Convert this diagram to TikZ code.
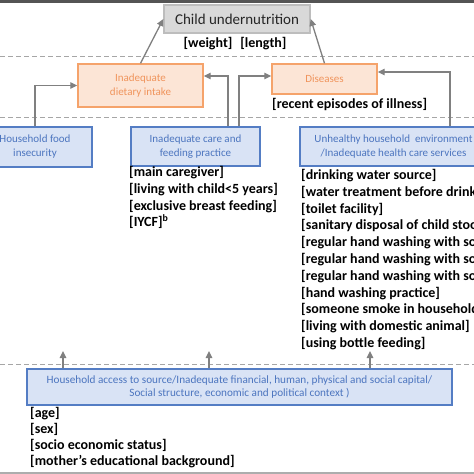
\documentclass[tikz,border=0pt]{standalone}
\usepackage{fontspec}
\setmainfont{Carlito}
\usetikzlibrary{arrows.meta}
\newlength{\du}
\setlength{\du}{1pt}

\definecolor{bandgray}{rgb}{0.33,0.33,0.33}
\definecolor{footgray}{rgb}{0.68,0.68,0.68}
\definecolor{framegray}{rgb}{0.74,0.74,0.74}
\definecolor{fillgray}{rgb}{0.85,0.85,0.85}
\definecolor{dashgray}{rgb}{0.65,0.65,0.65}
\definecolor{arrowgray}{rgb}{0.50,0.50,0.50}
\definecolor{frameorange}{rgb}{0.96,0.64,0.42}
\definecolor{fillorange}{rgb}{0.99,0.90,0.84}
\definecolor{textorange}{rgb}{0.94,0.58,0.36}
\definecolor{frameblue}{rgb}{0.33,0.49,0.77}
\definecolor{fillblue}{rgb}{0.85,0.89,0.96}
\definecolor{textblue}{rgb}{0.30,0.46,0.75}

\begin{document}
\begin{tikzpicture}[
  graybox/.style={draw=framegray, fill=fillgray, line width=1.4\du, inner sep=0pt,
    font=\fontsize{15}{17}\selectfont, text=black!85},
  orangebox/.style={draw=frameorange, fill=fillorange, line width=1.4\du, inner sep=0pt,
    align=center, text=textorange, font=\fontsize{11}{14}\selectfont},
  bluebox/.style={draw=frameblue, fill=fillblue, line width=1.2\du, inner sep=0pt,
    align=center, text=textblue, font=\fontsize{11}{14}\selectfont},
  factors/.style={inner sep=0pt, align=left, font=\bfseries\fontsize{14}{16.8}\selectfont},
  conn/.style={draw=arrowgray, line width=1.3\du, -{Triangle[length=7pt,width=6.5pt]}},
  levelline/.style={draw=dashgray, line width=1\du, dash pattern=on 5pt off 3pt}
]
\pgftransformxscale{1.000000}
\pgftransformyscale{-1.000000}
\useasboundingbox (0\du,0\du) rectangle (474\du,474\du);
\clip (0\du,0\du) rectangle (474\du,474\du);
\fill[white] (0\du,0\du) rectangle (474\du,474\du);
\fill[bandgray] (0\du,0\du) rectangle (474\du,2.5\du);
\fill[footgray] (0\du,471.5\du) rectangle (474\du,474\du);
% levels
\draw[levelline] (0\du,56\du)--(474\du,56\du);
\draw[levelline] (0\du,117\du)--(474\du,117\du);
\draw[levelline] (0\du,364\du)--(474\du,364\du);
% outcome
\node[graybox, minimum width=146\du, minimum height=28\du] (child) at (237\du,19\du){Child undernutrition};
\node[factors] (childvars) at (235\du,44\du){[weight]\hspace{8\du}[length]};
% immediate causes
\node[orangebox, minimum width=125\du, minimum height=43\du] (diet) at (140.5\du,85.5\du){Inadequate\\dietary intake};
\node[orangebox, minimum width=105\du, minimum height=30\du] (dis) at (324.5\du,79\du){Diseases};
\node[factors, anchor=west] (disvars) at (272\du,104\du){[recent episodes of illness]};
% underlying causes
\node[bluebox, minimum width=114\du, minimum height=40\du] (food) at (35\du,147\du){Household food\\insecurity};
\node[bluebox, minimum width=129\du, minimum height=39\du] (care) at (195.5\du,146.5\du){Inadequate care and\\feeding practice};
\node[bluebox, minimum width=187\du, minimum height=39\du] (env) at (393.5\du,146.5\du){Unhealthy household\ \ environment\\/Inadequate health care services};
\node[factors, anchor=north west] (carevars) at (129\du,166\du){[main caregiver]\\{[living with child<5 years]}\\{[exclusive breast feeding]}\\{[IYCF]\textsuperscript{b}}};
\node[factors, anchor=north west] (envvars) at (301\du,169\du){[drinking water source]\\{[water treatment before drinking]}\\{[toilet facility]}\\{[sanitary disposal of child stool]}\\{[regular hand washing with soap after toilet]}\\{[regular hand washing with soap before feeding]}\\{[regular hand washing with soap before cooking]}\\{[hand washing practice]}\\{[someone smoke in household]}\\{[living with domestic animal]}\\{[using bottle feeding]}};
% basic causes
\node[bluebox, minimum width=425\du, minimum height=36\du, font=\fontsize{11.2}{13}\selectfont] (access) at (239.5\du,387\du){Household access to source/Inadequate financial, human, physical and social capital/\\Social structure, economic and political context )};
\node[factors, anchor=north west, font=\bfseries\fontsize{14}{16}\selectfont] (accessvars) at (30\du,407\du){[age]\\{[sex]}\\{[socio economic status]}\\{[mother’s educational background]}};
% connectors
\draw[conn] (diet.north)--(child.west);
\draw[conn] (dis.north)--(child.east);
\draw[conn] (food.north) |- (diet.west);
\coordinate (bend1) at (228\du,76\du);
\draw[conn] (care.north -| bend1)--(bend1)--(bend1 -| diet.east);
\coordinate (bend2) at (239\du,76\du);
\draw[conn] (care.north -| bend2)--(bend2)--(bend2 -| dis.west);
\coordinate (bend3) at (450\du,72\du);
\draw[conn] (env.north -| bend3)--(bend3)--(bend3 -| dis.east);
\foreach \ax in {63,209,370}{
\coordinate (tip\ax) at (\ax\du,351\du);
\draw[conn] (access.north -| tip\ax)--(tip\ax);
}
\end{tikzpicture}
\end{document}
